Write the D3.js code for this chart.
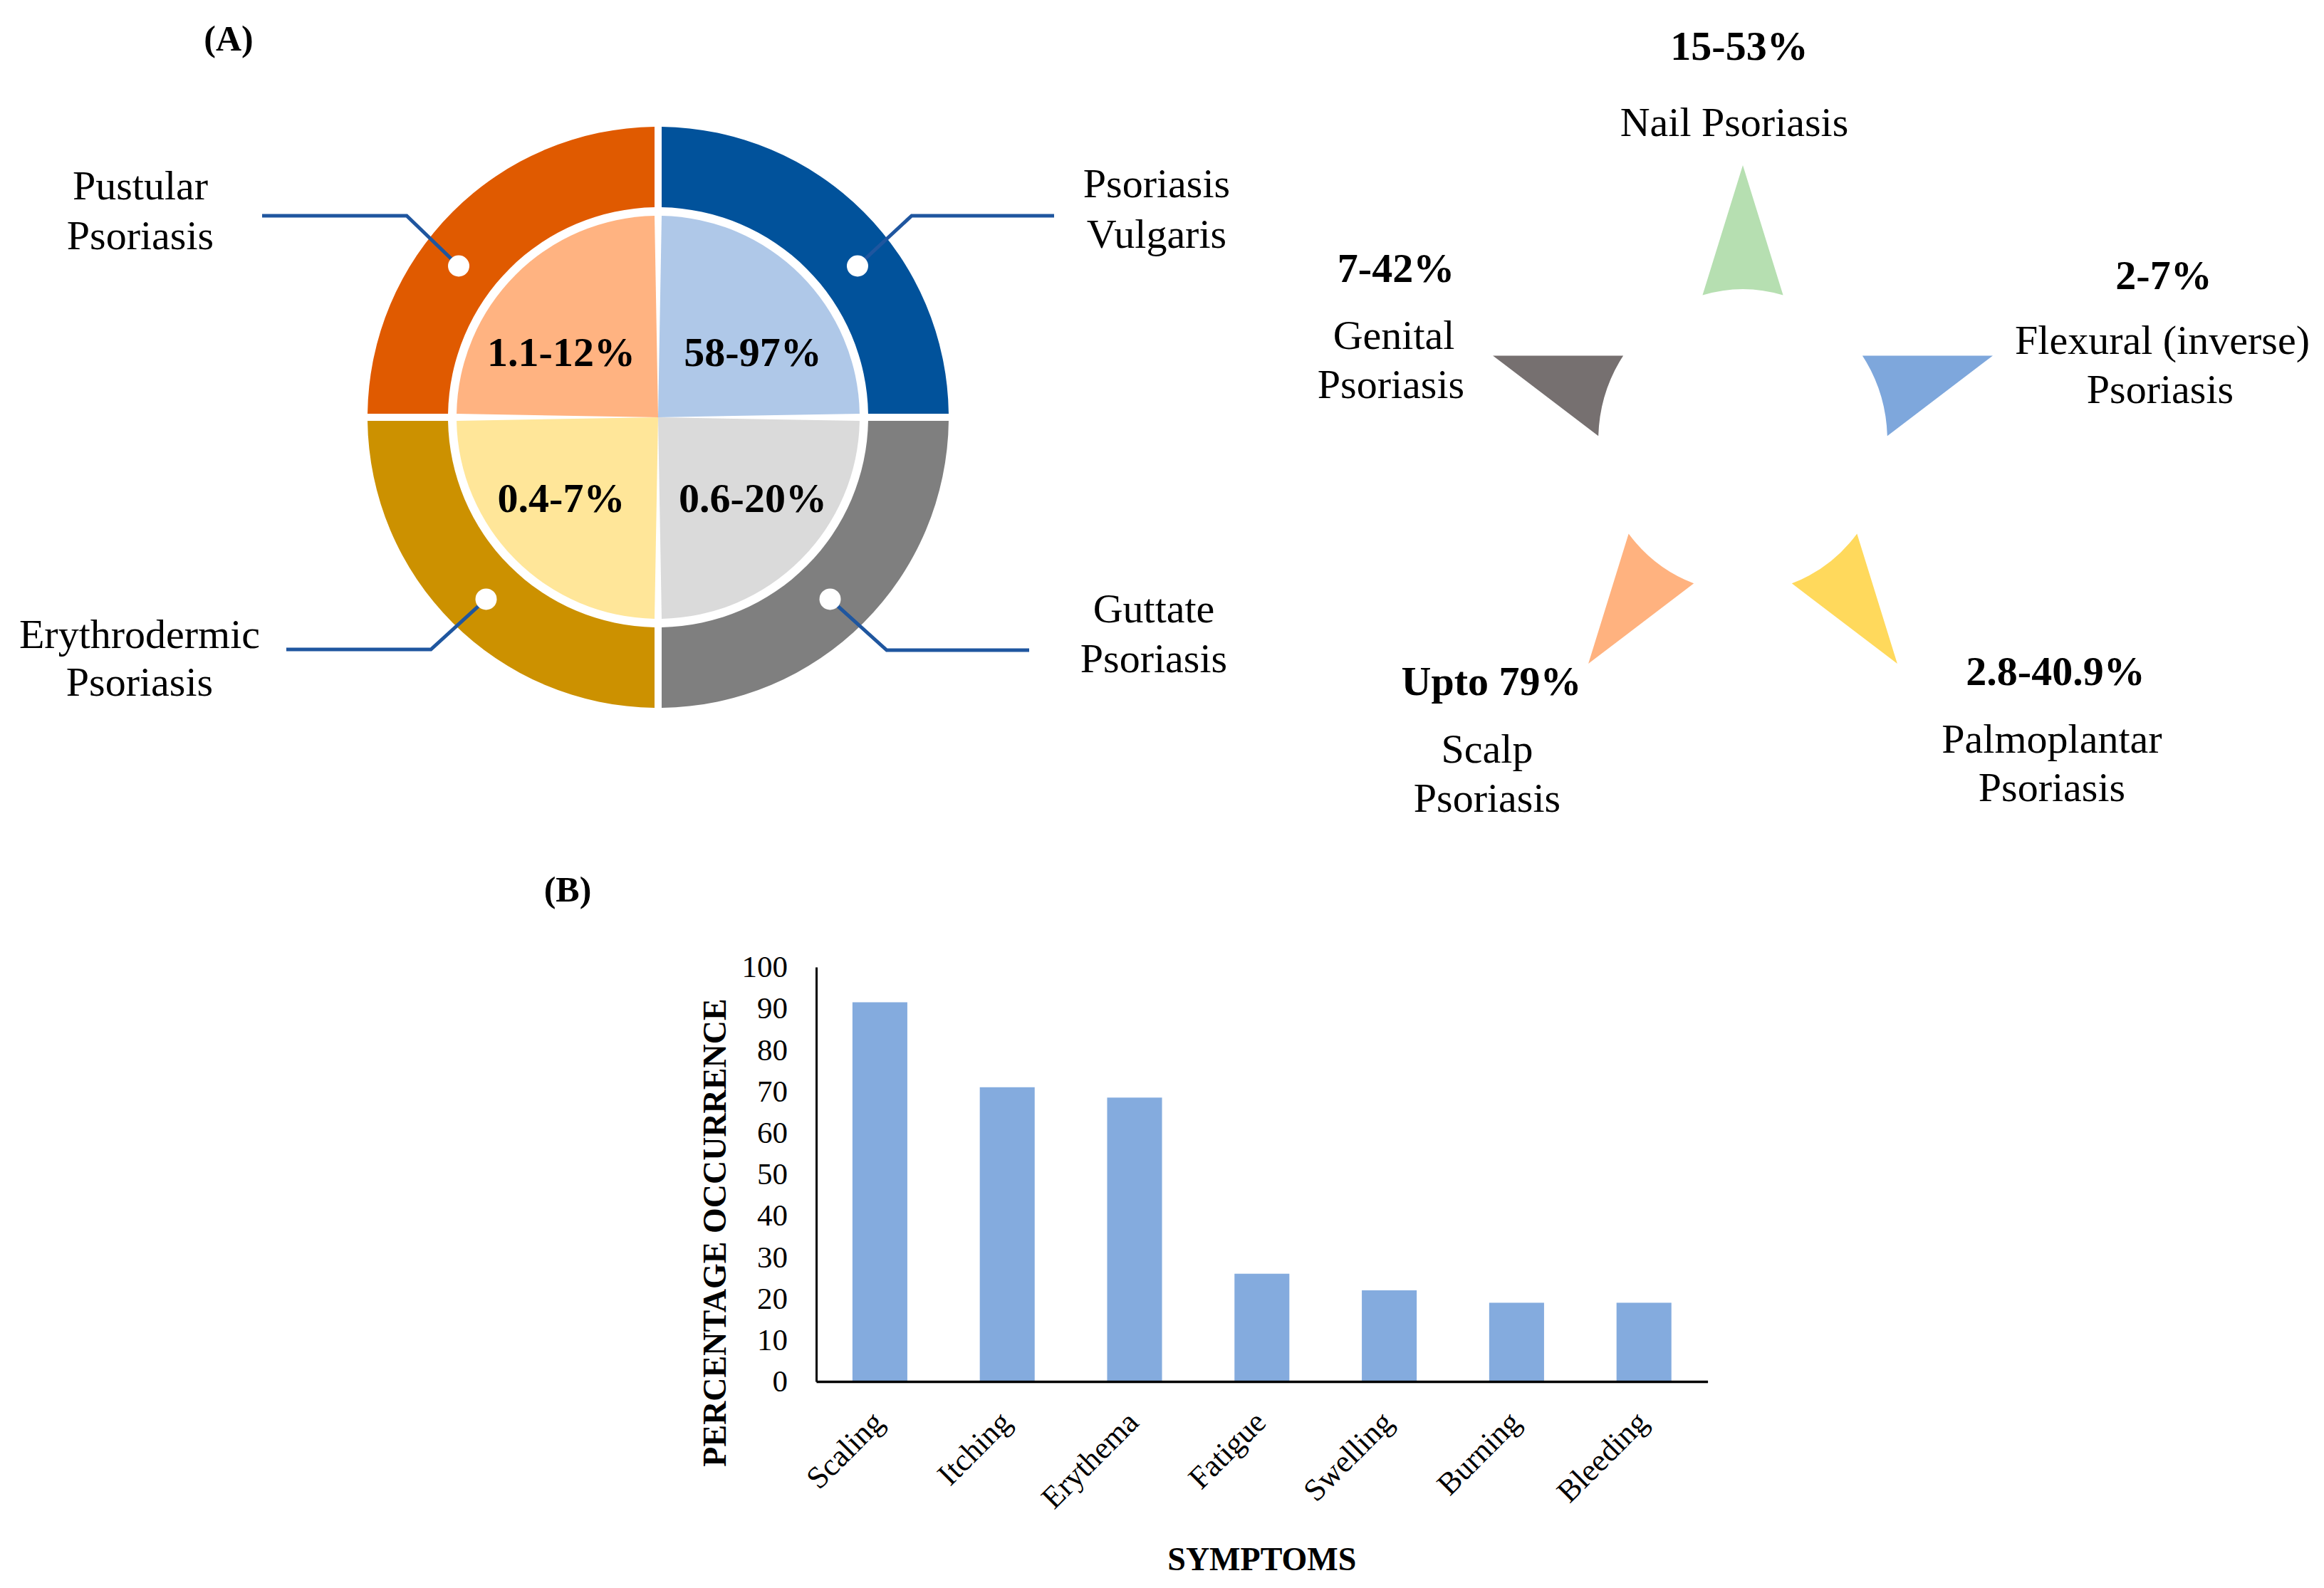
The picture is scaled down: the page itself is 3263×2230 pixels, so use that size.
<!DOCTYPE html>
<html>
<head>
<meta charset="utf-8">
<script src="https://cdn.jsdelivr.net/npm/d3@7"></script>
<style>
html, body { margin: 0; padding: 0; background: #fff; }
svg { display: block; }
text { font-family: "Liberation Serif", "Times New Roman", serif; fill: #000; }
</style>
</head>
<body>
<svg id="chart" width="3263" height="2230"></svg>
<script>
// ---------------- DATA ----------------
// Panel A (left): types of psoriasis, clockwise from the upper-right quadrant
const typeNames = ["Psoriasis Vulgaris", "Guttate Psoriasis", "Erythrodermic Psoriasis", "Pustular Psoriasis"];
const typeLabelLines = [["Psoriasis", "Vulgaris"], ["Guttate", "Psoriasis"], ["Erythrodermic", "Psoriasis"], ["Pustular", "Psoriasis"]];
const typeRanges = ["58-97%", "0.6-20%", "0.4-7%", "1.1-12%"];

// Panel A (right): sites of psoriasis, clockwise from the top point of the star
const siteNames = ["Nail Psoriasis", "Flexural (inverse) Psoriasis", "Palmoplantar Psoriasis", "Scalp Psoriasis", "Genital Psoriasis"];
const siteLabelLines = [["Nail Psoriasis"], ["Flexural (inverse)", "Psoriasis"], ["Palmoplantar", "Psoriasis"], ["Scalp", "Psoriasis"], ["Genital", "Psoriasis"]];
const siteRanges = ["15-53%", "2-7%", "2.8-40.9%", "Upto 79%", "7-42%"];

// Panel B: symptoms bar chart
const symptoms = ["Scaling", "Itching", "Erythema", "Fatigue", "Swelling", "Burning", "Bleeding"];
const occurrence = [91.5, 71, 68.5, 26, 22, 19, 19];
const yTickValues = [0, 10, 20, 30, 40, 50, 60, 70, 80, 90, 100];

// ---------------- STYLES ----------------
const ringColors = ["#01529B", "#7F7F7F", "#CC9100", "#E05A00"];
const innerColors = ["#AFC8E8", "#DADADA", "#FFE699", "#FFB381"];
const siteColors = ["#B6DFB1", "#7EA7DC", "#FFD95C", "#FFB27F", "#767070"];
const leaderColor = "#1F569F";
const barColor = "#84ABDE";

const svg = d3.select("#chart");
svg.append("rect").attr("width", 3263).attr("height", 2230).attr("fill", "#fff");

// panel letters
svg.append("text").attr("x", 321).attr("y", 71).attr("text-anchor", "middle")
  .attr("font-size", 50).attr("font-weight", "bold").text("(A)");
svg.append("text").attr("x", 797).attr("y", 1266).attr("text-anchor", "middle")
  .attr("font-size", 50).attr("font-weight", "bold").text("(B)");

// ---------------- DONUT ----------------
const dc = { x: 924, y: 586 };
const rOuter = 408, rRingIn = 295, rInner = 283, gap = 10;
const pie = d3.pie().sort(null).value(() => 1);
const arcsData = pie(typeNames);

const ringArc = d3.arc().innerRadius(rRingIn).outerRadius(rOuter).padRadius(rOuter).padAngle(gap / rOuter);
const innerArc = d3.arc().innerRadius(0).outerRadius(rInner).padRadius(rOuter).padAngle(gap / rOuter);

const donut = svg.append("g").attr("transform", `translate(${dc.x},${dc.y})`);
donut.selectAll("path.ring").data(arcsData).join("path").attr("class", "ring")
  .attr("d", ringArc).attr("fill", (d, i) => ringColors[i]);
donut.selectAll("path.inner").data(arcsData).join("path").attr("class", "inner")
  .attr("d", innerArc).attr("fill", (d, i) => innerColors[i]);

// layout of the quadrant annotations (clockwise from upper-right)
const quadLayout = [
  { dotAngle: 52.8,  elbow: [1280, 303], endX: 1480, labelX: 1624, labelY: [277, 348], valX: 133,  valY: -72 },
  { dotAngle: 136.6, elbow: [1245, 913], endX: 1445, labelX: 1620, labelY: [874, 944], valX: 133,  valY: 133 },
  { dotAngle: 223.4, elbow: [605, 912],  endX: 402,  labelX: 196,  labelY: [910, 977], valX: -136, valY: 133 },
  { dotAngle: 307.2, elbow: [571, 303],  endX: 368,  labelX: 197,  labelY: [280, 350], valX: -136, valY: -72 }
];
const rDot = (rOuter + rRingIn) / 2;

typeNames.forEach((name, i) => {
  const L = quadLayout[i];
  const a = L.dotAngle * Math.PI / 180;
  const px = dc.x + rDot * Math.sin(a), py = dc.y - rDot * Math.cos(a);
  svg.append("path")
    .attr("d", d3.line()([[px, py], L.elbow, [L.endX, L.elbow[1]]]))
    .attr("fill", "none").attr("stroke", leaderColor).attr("stroke-width", 5)
    .attr("stroke-linejoin", "miter");
  svg.append("circle").attr("cx", px).attr("cy", py).attr("r", 15).attr("fill", "#fff");
  typeLabelLines[i].forEach((ln, j) => {
    svg.append("text").attr("x", L.labelX).attr("y", L.labelY[j]).attr("text-anchor", "middle")
      .attr("font-size", 58).text(ln);
  });
  svg.append("text").attr("x", dc.x + L.valX).attr("y", dc.y + L.valY).attr("text-anchor", "middle")
    .attr("font-size", 58).attr("font-weight", "bold").text(typeRanges[i]);
});

// ---------------- STAR ----------------
const sc = { x: 2447, y: 619 };
const Rx = 369, Ry = 387;
const rho = 0.55;                 // inner white circle (unit radius)
const rPent = 0.381966;           // pentagram inner vertex radius (unit)
const star = svg.append("g").attr("transform", `translate(${sc.x},${sc.y}) scale(${Rx},${Ry})`);

function tipPath(k) {
  const th = (-90 + 72 * k) * Math.PI / 180;
  const T = [Math.cos(th), Math.sin(th)];
  const cut = (phi) => {
    const A = [rPent * Math.cos(phi), rPent * Math.sin(phi)];
    const d = [A[0] - T[0], A[1] - T[1]];
    const dd = d[0] * d[0] + d[1] * d[1];
    const td = T[0] * d[0] + T[1] * d[1];
    const t = (-td - Math.sqrt(td * td - dd * (1 - rho * rho))) / dd;
    return [T[0] + t * d[0], T[1] + t * d[1]];
  };
  const P1 = cut(th - 36 * Math.PI / 180);
  const P2 = cut(th + 36 * Math.PI / 180);
  const a1 = Math.atan2(P1[1], P1[0]);
  let a2 = Math.atan2(P2[1], P2[0]);
  if (a2 < a1) a2 += 2 * Math.PI;
  const p = d3.path();
  p.moveTo(T[0], T[1]);
  p.lineTo(P1[0], P1[1]);
  p.arc(0, 0, rho, a1, a2, false);
  p.closePath();
  return p.toString();
}

star.selectAll("path").data(siteNames).join("path")
  .attr("d", (d, i) => tipPath(i)).attr("fill", (d, i) => siteColors[i]);

const siteLayout = [
  { valX: 2442, valY: 84,  lineX: [2435],       lineY: [191] },
  { valX: 3038, valY: 406, lineX: [3036, 3033], lineY: [497, 566] },
  { valX: 2886, valY: 962, lineX: [2881, 2881], lineY: [1057, 1125] },
  { valX: 2094, valY: 976, lineX: [2088, 2088], lineY: [1071, 1140] },
  { valX: 1960, valY: 396, lineX: [1957, 1953], lineY: [490, 559] }
];
siteNames.forEach((name, i) => {
  const L = siteLayout[i];
  svg.append("text").attr("x", L.valX).attr("y", L.valY).attr("text-anchor", "middle")
    .attr("font-size", 58).attr("font-weight", "bold").text(siteRanges[i]);
  siteLabelLines[i].forEach((ln, j) => {
    svg.append("text").attr("x", L.lineX[j]).attr("y", L.lineY[j]).attr("text-anchor", "middle")
      .attr("font-size", 58).text(ln);
  });
});

// ---------------- BAR CHART ----------------
const plot = { left: 1146, right: 2397.6, top: 1358, bottom: 1940 };
const x = d3.scaleBand().domain(symptoms).range([plot.left, plot.right])
  .paddingInner(0.569).paddingOuter(0.2845);
const y = d3.scaleLinear().domain([0, 100]).range([plot.bottom, plot.top]);

svg.append("g").selectAll("rect").data(symptoms).join("rect")
  .attr("x", d => x(d)).attr("width", x.bandwidth())
  .attr("y", (d, i) => y(occurrence[i]))
  .attr("height", (d, i) => y(0) - y(occurrence[i]))
  .attr("fill", barColor);

const yAxis = svg.append("g").attr("transform", `translate(${plot.left},0)`)
  .call(d3.axisLeft(y).tickValues(yTickValues).tickSize(0).tickSizeOuter(0).tickPadding(40));
yAxis.select(".domain").attr("stroke", "#000").attr("stroke-width", 3);
yAxis.selectAll("text").attr("font-size", 43).attr("font-family", "Liberation Serif, Times New Roman, serif").attr("fill", "#000");

const xAxis = svg.append("g").attr("transform", `translate(0,${plot.bottom})`)
  .call(d3.axisBottom(x).tickSize(0).tickSizeOuter(0));
xAxis.select(".domain").attr("stroke", "#000").attr("stroke-width", 3.5);
xAxis.selectAll("text")
  .attr("font-size", 44).attr("font-family", "Liberation Serif, Times New Roman, serif").attr("fill", "#000")
  .attr("x", 0).attr("y", 0).attr("dy", null)
  .attr("text-anchor", "end")
  .attr("transform", "translate(8,60) rotate(-45)");

svg.append("text")
  .attr("transform", `translate(1019,1731) rotate(-90)`)
  .attr("text-anchor", "middle").attr("font-size", 46).attr("font-weight", "bold")
  .text("PERCENTAGE OCCURRENCE");
svg.append("text").attr("x", (plot.left + plot.right) / 2).attr("y", 2205)
  .attr("text-anchor", "middle").attr("font-size", 46).attr("font-weight", "bold")
  .text("SYMPTOMS");
</script>
</body>
</html>
